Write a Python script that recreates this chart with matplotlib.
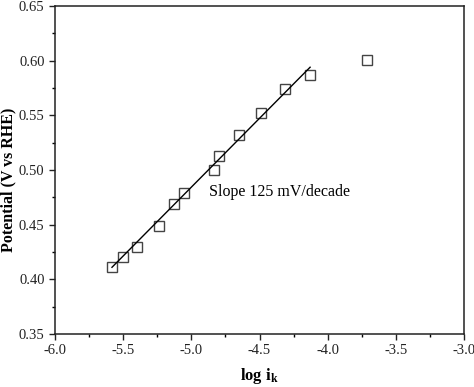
import matplotlib
matplotlib.use("Agg")
import matplotlib.pyplot as plt
from matplotlib.ticker import MultipleLocator

log_ik = [-5.582, -5.501, -5.398, -5.235, -5.127, -5.056, -4.836, -4.797,
          -4.650, -4.489, -4.313, -4.131, -3.709]
potential = [0.411, 0.420, 0.430, 0.449, 0.469, 0.479, 0.500, 0.513,
             0.532, 0.552, 0.574, 0.587, 0.601]
fit_x = [-5.582, -4.129]
fit_y = [0.411, 0.594]
annotation = "Slope 125 mV/decade"

plt.rcParams['font.family'] = ['Liberation Serif', 'DejaVu Serif']
plt.rcParams['mathtext.fontset'] = 'custom'
plt.rcParams['mathtext.rm'] = 'Liberation Serif'
plt.rcParams['mathtext.bf'] = 'Liberation Serif:bold'
plt.rcParams['mathtext.it'] = 'Liberation Serif:italic'

fig = plt.figure(figsize=(4.74, 3.87), dpi=100)
ax = fig.add_axes([0.116, 0.137, 0.863, 0.8475])

ax.plot(log_ik, potential, linestyle='none', marker='s', markersize=7,
        markerfacecolor='none', markeredgecolor='#444444', markeredgewidth=1.0)
ax.plot(fit_x, fit_y, color='black', linewidth=1.0)
ax.text(-4.868, 0.480, annotation, fontsize=11.5, va='center', ha='left')

ax.set_xlim(-6.0, -3.0)
ax.set_ylim(0.35, 0.65)
ax.xaxis.set_major_locator(MultipleLocator(0.5))
ax.xaxis.set_minor_locator(MultipleLocator(0.25))
ax.yaxis.set_major_locator(MultipleLocator(0.05))
ax.yaxis.set_minor_locator(MultipleLocator(0.025))
ax.xaxis.set_major_formatter(plt.FormatStrFormatter('%.1f'))
ax.yaxis.set_major_formatter(plt.FormatStrFormatter('%.2f'))
ax.tick_params(which='major', direction='out', length=4, width=1, labelsize=10.5, colors='#222222')
ax.tick_params(which='minor', direction='out', length=2.5, width=1)
for s in ax.spines.values():
    s.set_linewidth(1.1)
    s.set_color('#222222')

ax.set_xlabel(r'log i$_\mathbf{k}$', fontsize=12, fontweight='bold', labelpad=6)
ax.set_ylabel('Potential (V vs RHE)', fontsize=11.5, fontweight='bold', labelpad=2)
ax.yaxis.set_label_coords(-0.095, 0.47)

fig.savefig('out.png', dpi=100)
